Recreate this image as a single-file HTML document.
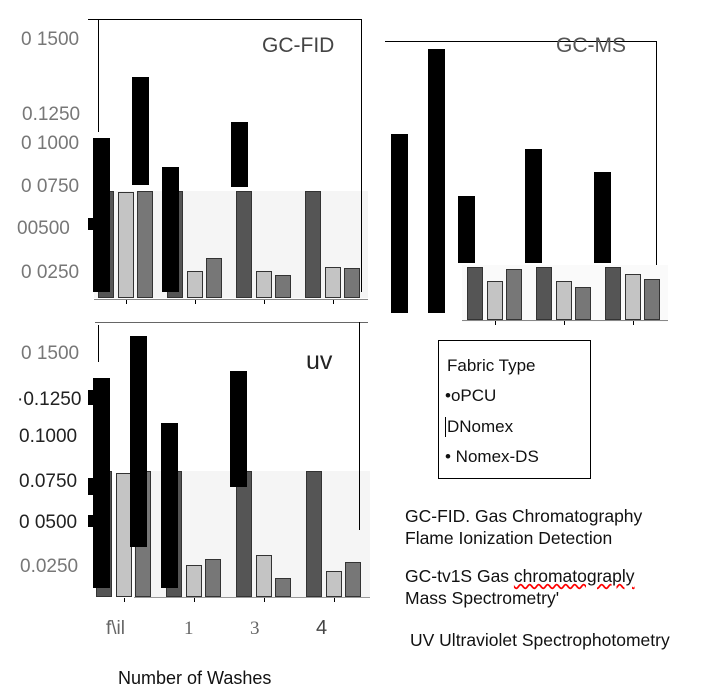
<!DOCTYPE html>
<html><head><meta charset="utf-8"><style>
body{margin:0;background:#fff;width:728px;height:691px;position:relative;overflow:hidden;font-family:"Liberation Sans",sans-serif}
.a{position:absolute}
.t{position:absolute;font-size:19px;color:#777;white-space:nowrap}
.ln{position:absolute;background:#000}
</style></head><body>
<div id="root">
<!-- GC-FID -->
<div class="a" style="left:94px;top:191px;width:274px;height:107px;background:#f5f5f5"></div>
<div class="ln" style="left:98px;top:19px;width:1px;height:113px"></div>
<div class="ln" style="left:88px;top:19px;width:273px;height:1px"></div>
<div class="ln" style="left:361px;top:19px;width:1px;height:273px"></div>
<div class="a" style="left:94px;top:299px;width:274px;height:1px;background:#888"></div>
<div class="a" style="left:95px;top:322px;width:273px;height:1px;background:#666"></div>
<div class="t" style="left:262px;top:34px;font-size:21px;color:#444">GC-FID</div>
<div class="t" style="left:21px;top:29px">0 1500</div>
<div class="t" style="left:22px;top:104px">0.1250</div>
<div class="t" style="left:21px;top:133px">0 1000</div>
<div class="t" style="left:21px;top:176px">0 0750</div>
<div class="t" style="left:17px;top:218px">00500</div>
<div class="t" style="left:21px;top:262px">0 0250</div>
<!-- GC-MS -->
<div class="a" style="left:462px;top:265px;width:206px;height:57px;background:#fafafa"></div>
<div class="ln" style="left:385px;top:41px;width:271px;height:1px"></div>
<div class="ln" style="left:656px;top:41px;width:1px;height:224px"></div>
<div class="a" style="left:462px;top:320px;width:206px;height:1px;background:#888"></div>
<div class="t" style="left:556px;top:34px;font-size:21px;color:#555">GC-MS</div>
<!-- UV -->
<div class="a" style="left:134px;top:471px;width:236px;height:127px;background:#f5f5f5"></div>
<div class="ln" style="left:98px;top:325px;width:1px;height:37px"></div>
<div class="ln" style="left:359px;top:322px;width:1px;height:208px"></div>
<div class="a" style="left:134px;top:597px;width:236px;height:1px;background:#999"></div>
<div class="t" style="left:306px;top:347px;font-size:25px;color:#222">uv</div>
<div class="t" style="left:21px;top:343px">0 1500</div>
<div class="t" style="left:17px;top:389px;color:#222">·0.1250</div>
<div class="t" style="left:19px;top:426px;color:#222">0.1000</div>
<div class="t" style="left:19px;top:471px;color:#222">0.0750</div>
<div class="t" style="left:19px;top:512px;color:#222">0 0500</div>
<div class="t" style="left:20px;top:556px">0.0250</div>
<div class="t" style="left:106px;top:618px;color:#666;font-size:19px">f\il</div>
<div class="t" style="left:184px;top:618px;color:#666;font-family:'Liberation Serif',serif;font-size:19px">1</div>
<div class="t" style="left:250px;top:618px;color:#666;font-family:'Liberation Serif',serif;font-size:19px">3</div>
<div class="t" style="left:316px;top:617px;color:#444;font-size:20px">4</div>
<div class="t" style="left:118px;top:668px;color:#111;font-size:18px">Number of Washes</div>
<!-- legend -->
<div class="a" style="left:438px;top:340px;width:151px;height:137px;border:1px solid #000;font-size:17px;color:#111">
<div class="a" style="left:8px;top:15px;white-space:nowrap">Fabric Type</div>
<div class="a" style="left:6px;top:45px;white-space:nowrap">•oPCU</div>
<div class="a" style="left:6px;top:76px;border-left:1px solid #000;padding-left:1px;white-space:nowrap">DNomex</div>
<div class="a" style="left:6px;top:106px;white-space:nowrap">• Nomex-DS</div>
</div>
<div class="t" style="left:405px;top:505px;color:#111;font-size:17.5px;line-height:22px">GC-FID. Gas Chromatography<br>Flame Ionization Detection</div>
<div class="t" style="left:405px;top:565px;color:#111;font-size:17.5px;line-height:22px">GC-tv1S Gas <span style="text-decoration:underline wavy red">chromatograply</span><br>Mass Spectrometry'</div>
<div class="t" style="left:410px;top:630px;color:#111;font-size:17.5px">UV Ultraviolet Spectrophotometry</div>
</div>
<script>
// GC-FID values (units): per group [PCU, Nomex, Nomex-DS]
const fidGroups = ["nil","1","3","4"];
const fidPCU = [0.075,0.075,0.075,0.075];
const fidNomex = [0.0745,0.019,0.019,0.022];
const fidNomexDS = [0.075,0.028,0.016,0.021];
const fidBlackPos = [-0.07,0.49,0.93,1.93];
const fidBlackLo = [0.0042,0.079,0.0042,0.078];
const fidBlackHi = [0.112,0.155,0.092,0.123];
// GC-MS
const msPCU = [0.037,0.037,0.037];
const msNomex = [0.027,0.027,0.032];
const msNomexDS = [0.036,0.023,0.029];
const msBlackPos = [-1.1,-0.57,-0.13,0.84,1.84];
const msBlackLo = [0.0049,0.0049,0.040,0.040,0.040];
const msBlackHi = [0.130,0.190,0.087,0.120,0.104];
// UV
const uvPCU = [0.079,0.079,0.079,0.079];
const uvNomex = [0.0775,0.020,0.026,0.016];
const uvNomexDS = [0.079,0.024,0.012,0.022];
const uvBlackPos = [-0.04,0.49,0.93,1.91];
const uvBlackLo = [0.0056,0.031,0.0056,0.069];
const uvBlackHi = [0.137,0.163,0.109,0.141];

const root=document.getElementById('root');
const colors=['#555','#c4c4c4','#777'];
function panel(name,base,k,gx0,gstep,series,bpos,blo,bhi,tickY){
  const y=v=>base-k*v;
  const x=(g,s)=>gx0+g*gstep+s*19.5;
  series.forEach((arr,s)=>arr.forEach((v,g)=>{
    const d=document.createElement('div');
    
    
    d.style.cssText=`position:absolute;left:${x(g,s)}px;top:${y(v)}px;width:16px;height:${base-y(v)}px;background:${colors[s]};border:1px solid #333;box-sizing:border-box`;
    root.appendChild(d);
  }));
  series[0].forEach((v,g)=>{
    const t=document.createElement('div');
    
    
    t.style.cssText=`position:absolute;left:${x(g,1)+8}px;top:${tickY}px;width:1px;height:4px;background:#000`;
    root.appendChild(t);
  });
  bpos.forEach((p,i)=>{
    const d=document.createElement('div');
    
    
    d.style.cssText=`position:absolute;left:${gx0+p*gstep}px;top:${y(bhi[i])}px;width:17px;height:${y(blo[i])-y(bhi[i])}px;background:#000`;
    root.appendChild(d);
  });
}
panel('fid',298,1427,98,69,[fidPCU,fidNomex,fidNomexDS],fidBlackPos,fidBlackLo,fidBlackHi,300);
panel('ms',320,1427,467,69,[msPCU,msNomex,msNomexDS],msBlackPos,msBlackLo,msBlackHi,321);
panel('uv',597,1600,96,70,[uvPCU,uvNomex,uvNomexDS],uvBlackPos,uvBlackLo,uvBlackHi,598);
[[88,218,20,12],[88,390,22,15],[88,478,22,17],[88,515,22,12]].forEach(r=>{
  const d=document.createElement('div');
  
  
  d.style.cssText=`position:absolute;left:${r[0]}px;top:${r[1]}px;width:${r[2]}px;height:${r[3]}px;background:#000`;
  root.appendChild(d);
});
</script>
</body></html>
